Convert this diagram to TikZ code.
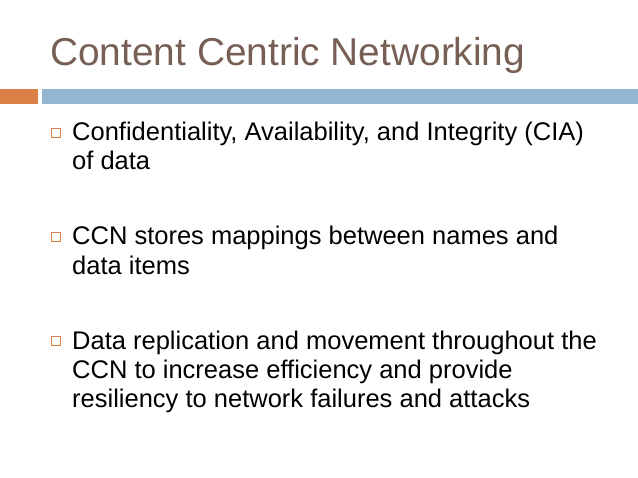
\documentclass[tikz,border=0pt]{standalone}
\usepackage{fontspec}
\setmainfont{Liberation Sans}
\definecolor{titlec}{HTML}{775F55}
\definecolor{orangec}{HTML}{DD8047}
\definecolor{bluec}{HTML}{94B6D2}
\begin{document}
\begin{tikzpicture}[x=1bp,y=-1bp,
  txt/.style={anchor=base west,inner sep=0pt,font=\fontsize{25.6}{30}\selectfont},
  box/.style={draw=orangec,line width=0.8bp}]
\useasboundingbox (0,0) rectangle (638,478);
\node[anchor=base west,inner sep=0pt,text=titlec,font=\fontsize{39}{44}\selectfont] (title) at (50,66) {Content Centric Networking};
\fill[orangec] (0,89) rectangle (38,104);
\fill[bluec] (42,89) rectangle (638,104);
\draw[box] (51,128) rectangle (60,137);
\node[txt] (l1) at (72,141) {Confidentiality, Availability, and Integrity (CIA)};
\node[txt] (l2) at (72,170) {of data};
\draw[box] (51,232) rectangle (60,241);
\node[txt] (l3) at (72,245) {CCN stores mappings between names and};
\node[txt] (l4) at (72,274) {data items};
\draw[box] (51,336) rectangle (60,345);
\node[txt] (l5) at (72,349) {Data replication and movement throughout the};
\node[txt] (l6) at (72,378) {CCN to increase efficiency and provide};
\node[txt] (l7) at (72,407) {resiliency to network failures and attacks};
\end{tikzpicture}
\end{document}
